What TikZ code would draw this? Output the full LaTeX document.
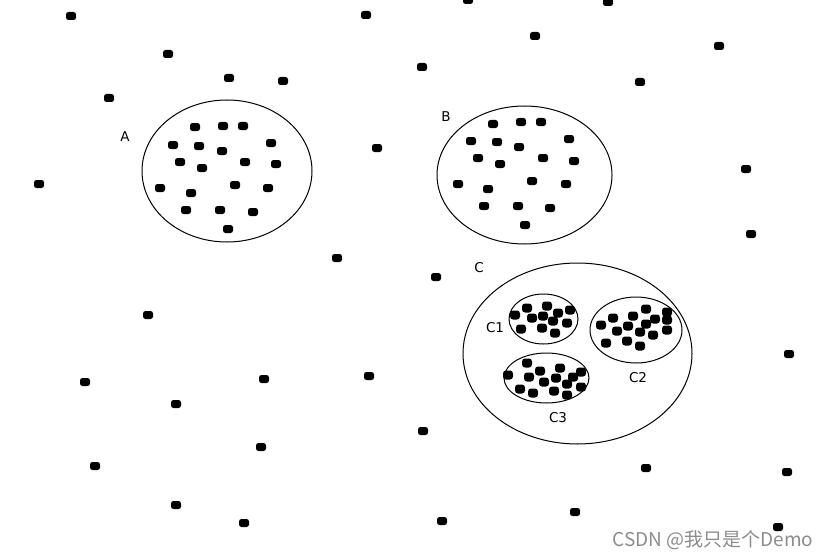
\documentclass[tikz,border=0pt]{standalone}
\usepackage{fontspec}
\setmainfont{DejaVu Sans}
\newfontfamily\cjkfont{Noto Sans CJK SC}
\usetikzlibrary{shapes.geometric}
\tikzstyle{Dot} = [fill=black, rounded corners=2.5pt, minimum width=10pt, minimum height=8pt, inner sep=0pt]
\tikzstyle{BigDot} = [Dot, rounded corners=3pt, minimum width=10pt, minimum height=9pt]
\tikzstyle{Cluster} = [draw, ellipse, line width=1pt, inner sep=0pt]
\tikzstyle{Label} = [inner sep=0pt, font=\fontsize{13.5}{13.5}\selectfont]

\begin{document}
\begin{tikzpicture}[x=1pt, y=-1pt]
    \useasboundingbox (0,0) rectangle (829,559);

    \node[Cluster, minimum width=170pt, minimum height=142pt] (A) at (227,171) {};
    \node[Cluster, minimum width=175pt, minimum height=138pt] (B) at (524.5,175) {};
    \node[Cluster, minimum width=229pt, minimum height=181pt] (C) at (577.5,353.5) {};
    \node[Cluster, minimum width=69pt, minimum height=50pt] (C1) at (543.5,319) {};
    \node[Cluster, minimum width=92pt, minimum height=66pt] (C2) at (636,330) {};
    \node[Cluster, minimum width=85pt, minimum height=50pt] (C3) at (546.5,378) {};

    \node[Label] (la) at (125,137) {A};
    \node[Label] (lb) at (446,117) {B};
    \node[Label] (lc) at (479,268) {C};
    \node[Label] (lc1) at (495,328) {C1};
    \node[Label] (lc2) at (638,378) {C2};
    \node[Label] (lc3) at (558,418) {C3};

    % noise
    \foreach \p [count=\i] in {(71,16),(168,54),(229,78),(283,81),(109,98),(39,184),
        (366,15),(377,148),(337,258),(468,0),(608,2),(535,36),(422,67),(719,46),
        (640,82),(746,169),(751,234),(436,277),(148,315),(85,382),(264,379),
        (369,376),(176,404),(423,431),(261,447),(95,466),(176,505),(244,523),
        (442,521),(646,468),(787,472),(575,512),(778,527),(789,354)}
        \node[Dot] (n\i) at \p {};

    % cluster A
    \foreach \p [count=\i] in {(195,127),(223,126),(243,126),(173,145),(199,146),
        (222,151),(271,143),(180,162),(202,168),(245,162),(276,164),(160,188),
        (191,193),(235,185),(268,188),(186,210),(220,210),(253,212),(228,229)}
        \node[Dot] (a\i) at \p {};

    % cluster B
    \foreach \p [count=\i] in {(493,124),(521,122),(541,122),(471,141),(497,142),
        (519,147),(569,139),(478,158),(500,164),(543,158),(574,161),(458,184),
        (488,189),(532,181),(566,184),(484,206),(518,206),(550,208),(525,225)}
        \node[Dot] (b\i) at \p {};

    % cluster C
    \foreach \p [count=\i] in {(527,308),(547,306),(570,310),(515,315),(532,318),
        (543,316),(558,313),(553,321),(567,323),(521,329),(542,328),(555,333)}
        \node[BigDot] (c1\i) at \p {};
    \foreach \p [count=\i] in {(613,318),(633,316),(646,309),(667,312),(667,320),
        (601,325),(617,331),(628,326),(646,324),(655,319),(667,330),(640,332),
        (653,335),(606,343),(627,341),(640,346)}
        \node[BigDot] (c2\i) at \p {};
    \foreach \p [count=\i] in {(527,363),(508,375),(540,371),(560,368),(581,372),
        (529,377),(544,382),(556,378),(573,377),(567,384),(520,389),(533,393),
        (554,391),(567,395),(581,387)}
        \node[BigDot] (c3\i) at \p {};

    \node[text=black!45, inner sep=0pt, font=\cjkfont\fontsize{19}{19}\selectfont] (wm) at (713,540) {CSDN @我只是个Demo};
\end{tikzpicture}
\end{document}
